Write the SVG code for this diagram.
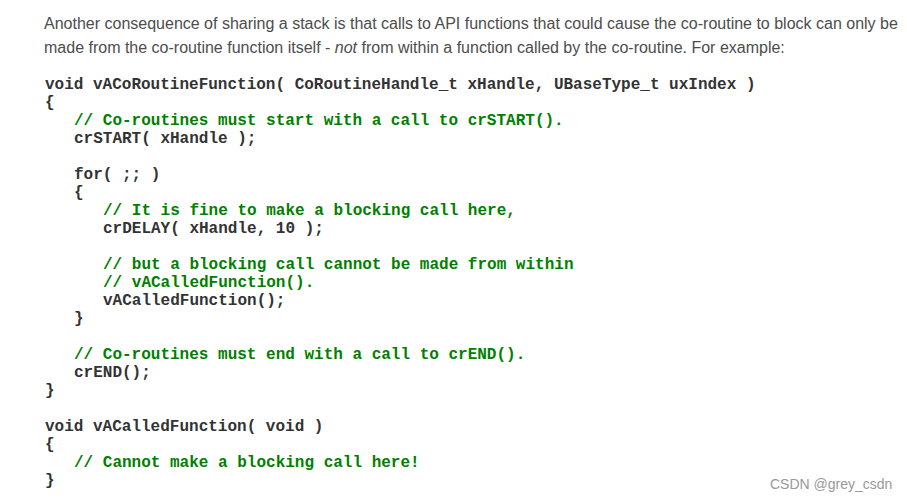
<svg xmlns="http://www.w3.org/2000/svg" width="907" height="501" viewBox="0 0 907 501">
<style>
.p{font-family:"Liberation Sans",Arial,sans-serif;font-size:16px;fill:#4d4d4d}
.c{font-family:"Liberation Mono","Courier New",monospace;font-size:16px;font-weight:bold;fill:#333;white-space:pre}
.g{fill:#008000}
.w{font-family:"Liberation Sans",Arial,sans-serif;font-size:14px;fill:#999}
</style>
<rect width="907" height="501" fill="#fff"/>
<g id="intro">
<text class="p" x="44" y="29">Another consequence of sharing a stack is that calls to API functions that could cause the co-routine to block can only be</text>
<text class="p" x="44" y="53">made from the co-routine function itself - <tspan font-style="italic">not</tspan> from within a function called by the co-routine. For example:</text>
</g>
<g id="code" xml:space="preserve">
<text class="c" x="45" y="89">void vACoRoutineFunction( CoRoutineHandle_t xHandle, UBaseType_t uxIndex )</text>
<text class="c" x="45" y="107">{</text>
<text class="c g" x="74" y="125">// Co-routines must start with a call to crSTART().</text>
<text class="c" x="74" y="143">crSTART( xHandle );</text>
<text class="c" x="74" y="179">for( ;; )</text>
<text class="c" x="74" y="197">{</text>
<text class="c g" x="103" y="215">// It is fine to make a blocking call here,</text>
<text class="c" x="103" y="233">crDELAY( xHandle, 10 );</text>
<text class="c g" x="103" y="269">// but a blocking call cannot be made from within</text>
<text class="c g" x="103" y="287">// vACalledFunction().</text>
<text class="c" x="103" y="305">vACalledFunction();</text>
<text class="c" x="74" y="323">}</text>
<text class="c g" x="74" y="359">// Co-routines must end with a call to crEND().</text>
<text class="c" x="74" y="377">crEND();</text>
<text class="c" x="45" y="395">}</text>
<text class="c" x="45" y="431">void vACalledFunction( void )</text>
<text class="c" x="45" y="449">{</text>
<text class="c g" x="74" y="467">// Cannot make a blocking call here!</text>
<text class="c" x="45" y="485">}</text>
</g>
<text class="w" x="770" y="489">CSDN @grey_csdn</text>
</svg>
